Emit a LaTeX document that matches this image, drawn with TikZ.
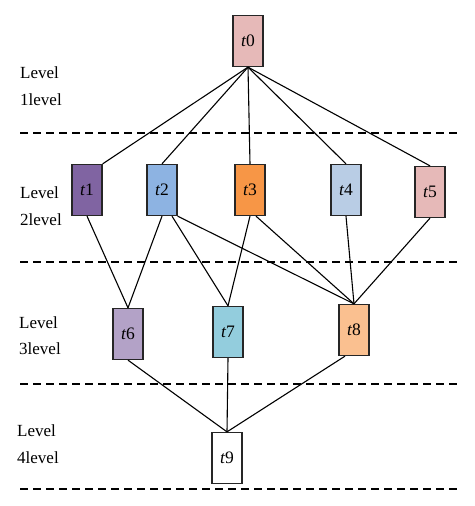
\documentclass[tikz,border=0pt]{standalone}
\usepackage{fontspec}
\setmainfont{Liberation Serif}
\begin{document}
\begin{tikzpicture}[x=1pt,y=-1pt,
  task/.style={draw=black!85, line width=1.3pt, minimum width=30pt, minimum height=51pt, inner sep=0pt, font=\fontsize{17.5}{20}\selectfont},
  lvl/.style={anchor=north west, align=left, inner sep=0pt, font=\fontsize{17}{27}\selectfont},
  sep/.style={line width=1.3pt, dash pattern=on 8pt off 5pt},
  edge/.style={line width=1.1pt}]
\definecolor{cpink}{RGB}{230,185,184}
\definecolor{cpurple}{RGB}{128,100,162}
\definecolor{cblue}{RGB}{141,179,226}
\definecolor{corange}{RGB}{247,150,70}
\definecolor{clblue}{RGB}{185,205,229}
\definecolor{clav}{RGB}{179,162,199}
\definecolor{caqua}{RGB}{147,205,221}
\definecolor{cpeach}{RGB}{250,192,144}
\useasboundingbox (0,0) rectangle (474,506);
% levels
\node[lvl] (l1) at (20,67) {Level\\1level};
\node[lvl] (l2) at (20,187) {Level\\2level};
\node[lvl] (l3) at (19,316) {Level\\3level};
\node[lvl] (l4) at (17,424) {Level\\4level};
\coordinate (s1a) at (20,133); \coordinate (s1b) at (458,133);
\coordinate (s2a) at (20,262); \coordinate (s2b) at (458,262);
\coordinate (s3a) at (20,384); \coordinate (s3b) at (458,384);
\coordinate (s4a) at (20,489); \coordinate (s4b) at (458,489);
\draw[sep] (s1a) -- (s1b);
\draw[sep] (s2a) -- (s2b);
\draw[sep] (s3a) -- (s3b);
\draw[sep] (s4a) -- (s4b);
% tasks
\node[task, fill=cpink] (t0) at (248,41) {\textit{t}0};
\node[task, fill=cpurple] (t1) at (87,190) {\textit{t}1};
\node[task, fill=cblue] (t2) at (162,190) {\textit{t}2};
\node[task, fill=corange] (t3) at (250,190) {\textit{t}3};
\node[task, fill=clblue] (t4) at (346,190) {\textit{t}4};
\node[task, fill=cpink] (t5) at (430,192) {\textit{t}5};
\node[task, fill=clav] (t6) at (128,334) {\textit{t}6};
\node[task, fill=caqua] (t7) at (228,332) {\textit{t}7};
\node[task, fill=cpeach] (t8) at (354,330) {\textit{t}8};
\node[task, fill=white] (t9) at (227,458) {\textit{t}9};
% edges
\draw[edge] (t0.south) -- (t1.north east);
\draw[edge] (t0.south) -- (t2.north);
\draw[edge] (t0.south) -- (t3.north);
\draw[edge] (t0.south) -- (t4.north);
\draw[edge] (t0.south) -- (t5.north);
\draw[edge] (t1.south) -- (t6.north);
\draw[edge] (t2.south) -- (t6.north);
\draw[edge] ([xshift=10pt]t2.south) -- (t7.north);
\draw[edge] (t2.south east) -- (t8.north);
\draw[edge] (t3.south) -- (t7.north);
\draw[edge] ([xshift=6pt]t3.south) -- (t8.north);
\draw[edge] (t4.south) -- (t8.north);
\draw[edge] (t5.south) -- (t8.north);
\draw[edge] (t6.south) -- (t9.north);
\draw[edge] (t7.south) -- (t9.north);
\draw[edge] ([xshift=-9pt]t8.south) -- (t9.north);
\end{tikzpicture}
\end{document}
